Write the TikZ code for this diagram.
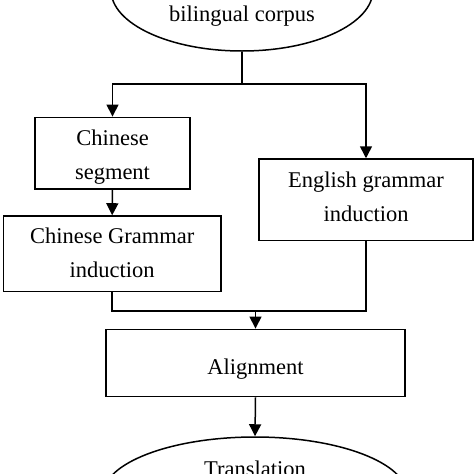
\documentclass[tikz,border=0pt]{standalone}
\usepackage{fontspec}
\setmainfont{Liberation Serif}
\usetikzlibrary{arrows.meta,shapes.geometric}
\begin{document}
\begin{tikzpicture}[x=1pt,y=-1pt,
  every node/.style={font=\fontsize{22.5}{33.7}\selectfont, inner sep=0pt, align=center},
  stepbox/.style={draw, line width=1.5pt, rectangle},
  oval/.style={draw, line width=1.5pt, ellipse},
  link/.style={line width=1.5pt},
  arrow/.style={line width=1.5pt, -{Triangle[length=12pt,width=12pt]}}]
\useasboundingbox (0,0) rectangle (474,474);
\node[oval, minimum width=262pt, minimum height=122pt] (corpus) at (242,-10)
  {\rule{0pt}{68.2pt}bilingual corpus};
\node[stepbox, minimum width=155pt, minimum height=71.7pt] (seg) at (112.5,153.15)
  {\rule{0pt}{24.2pt}Chinese\\segment};
\node[stepbox, minimum width=217.7pt, minimum height=75.7pt] (cgi) at (112.2,253.8)
  {Chinese Grammar\\induction\rule[-2.7pt]{0pt}{0pt}};
\node[stepbox, minimum width=214pt, minimum height=81.7pt] (egi) at (366,199.85)
  {English grammar\\induction\rule[-6.4pt]{0pt}{0pt}};
\node[stepbox, minimum width=299pt, minimum height=67.4pt] (align) at (255.5,363)
  {\rule{0pt}{27.4pt}Alignment};
\node[oval, minimum width=304pt, minimum height=116pt] (trans) at (255,495)
  {Translation\rule[-52.4pt]{0pt}{0pt}};
\coordinate (split) at (242,84);
\coordinate (merge) at (255.5,311);
\draw[link] (corpus.south) -- (split);
\draw[arrow] (split) -| (seg.north);
\draw[arrow] (split) -| (egi.north);
\draw[arrow] (seg.south) -- (cgi.north);
\draw[link] (cgi.south) |- (merge) -| (egi.south);
\draw[arrow] (merge) -- (align.north);
\draw[arrow] (align.south) -- (trans.north);
\end{tikzpicture}
\end{document}
